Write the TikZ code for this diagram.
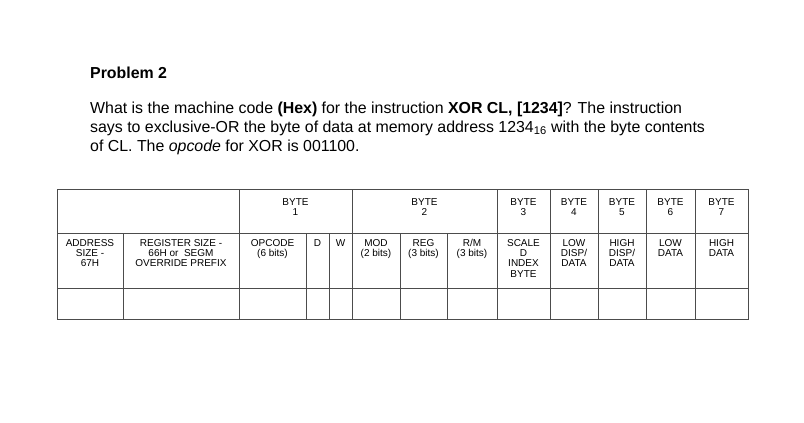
\documentclass[tikz,border=0pt]{standalone}
\usepackage{fontspec}
\setmainfont{Liberation Sans}
\begin{document}
\begin{tikzpicture}[x=1pt,y=-1pt,
  txt/.style={anchor=base west,inner sep=0pt,font=\fontsize{15.9}{18}\selectfont},
  cell/.style={align=center,inner sep=0pt,font=\fontsize{10}{10.4}\selectfont,anchor=north},
  ln/.style={draw=black!70,line width=0.7pt}]
\useasboundingbox (0,0) rectangle (804,423);
\node[txt,font=\fontsize{15.9}{18}\selectfont\bfseries] (title) at (90,78) {Problem 2};
\node[txt] (l1) at (90,113) {What is the machine code \textbf{(Hex)} for the instruction \textbf{XOR CL, [1234]}? The instruction};
\node[txt] (l2) at (90,132) {says to exclusive-OR the byte of data at memory address 1234\textsubscript{16} with the byte contents};
\node[txt] (l3) at (90,151) {of CL. The \textit{opcode} for XOR is 001100.};
% table
\draw[ln] (57,189) rectangle (748,319);
\draw[ln] (57,233) -- (748,233);
\draw[ln] (57,288) -- (748,288);
\foreach \x in {239,352,497,550,598,646,695} \draw[ln] (\x,189) -- (\x,319);
\foreach \x in {123,306,329,400,447} \draw[ln] (\x,233) -- (\x,319);
\node[cell] (b1) at (295.5,198) {BYTE\\1};
\node[cell] (b2) at (424.5,198) {BYTE\\2};
\node[cell] (b3) at (523.5,198) {BYTE\\3};
\node[cell] (b4) at (574,198) {BYTE\\4};
\node[cell] (b5) at (622,198) {BYTE\\5};
\node[cell] (b6) at (670.5,198) {BYTE\\6};
\node[cell] (b7) at (721.5,198) {BYTE\\7};
\node[cell] (c1) at (90,239) {ADDRESS\\SIZE -\\67H};
\node[cell] (c2) at (181,239) {REGISTER SIZE -\\66H or\ \ SEGM\\OVERRIDE PREFIX};
\node[cell] (c3) at (272.5,239) {OPCODE\\(6 bits)};
\node[cell] (c4) at (317.5,239) {D};
\node[cell] (c5) at (340.5,239) {W};
\node[cell] (c6) at (376,239) {MOD\\(2 bits)};
\node[cell] (c7) at (423.5,239) {REG\\(3 bits)};
\node[cell] (c8) at (472,239) {R/M\\(3 bits)};
\node[cell] (c9) at (523.5,239) {SCALE\\D\\INDEX\\BYTE};
\node[cell] (c10) at (574,239) {LOW\\DISP/\\DATA};
\node[cell] (c11) at (622,239) {HIGH\\DISP/\\DATA};
\node[cell] (c12) at (670.5,239) {LOW\\DATA};
\node[cell] (c13) at (721.5,239) {HIGH\\DATA};
\end{tikzpicture}
\end{document}
